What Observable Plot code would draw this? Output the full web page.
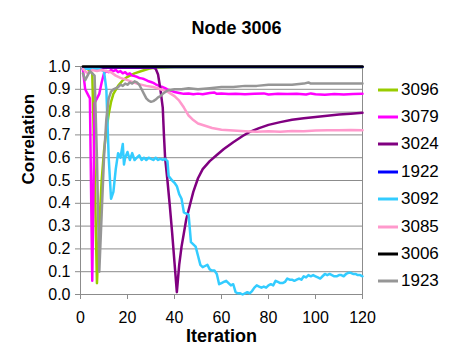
<!DOCTYPE html>
<html>
<head>
<meta charset="utf-8">
<script src="https://cdn.jsdelivr.net/npm/d3@7"></script>
<script src="https://cdn.jsdelivr.net/npm/@observablehq/plot@0.6"></script>
<style>
  html, body { margin: 0; padding: 0; background: #fff; }
  #chart { position: relative; width: 474px; height: 355px; font-family: "Liberation Sans", Arial, sans-serif; }
  #legend { position: absolute; left: 378px; top: 0; }
  .row { position: absolute; left: 0; display: flex; align-items: center; height: 24px; white-space: nowrap; }
  .row svg { display: block; }
  .row span { font-size: 17px; margin-left: 3px; color: #000; }
</style>
</head>
<body>
<div id="chart"><div id="legend"></div></div>
<script>
// ---- data ----
const title = "Node 3006";
const xLabel = "Iteration";
const yLabel = "Correlation";
const iterTicks = [0, 20, 40, 60, 80, 100, 120];
const corrTicks = [0, 0.1, 0.2, 0.3, 0.4, 0.5, 0.6, 0.7, 0.8, 0.9, 1.0];
const seriesNames = ["3096", "3079", "3024", "1922", "3092", "3085", "3006", "1923"];
const seriesColors = ["#99cc00", "#ff00ff", "#800080", "#0000ff", "#33ccff", "#ff99cc", "#000000", "#969696"];

const s3096 = [[1,0.99],[3,0.99],[5,0.97],[6,0.55],[7,0.05],[8,0.3],[9,0.5],[10,0.63],[11,0.72],[12,0.79],[13,0.845],[14,0.88],[16,0.915],[18,0.94],[20,0.955],[23,0.97],[26,0.98],[29,0.99],[32,0.995],[40,0.997],[60,0.997],[120,0.997]];
const s3079 = [[1,0.99],[2,0.9],[3,0.88],[4,0.86],[5,0.06],[6,0.84],[7,0.86],[8,0.88],[9,0.93],[10,0.97],[11,0.98],[12,0.975],[13,0.985],[14,0.98],[15,0.985],[16,0.975],[17,0.98],[18,0.97],[19,0.975],[20,0.965],[21,0.97],[22,0.96],[23,0.958],[24,0.955],[25,0.95],[26,0.948],[27,0.945],[28,0.94],[29,0.935],[30,0.932],[31,0.928],[32,0.922],[33,0.917],[34,0.912],[35,0.91],[36,0.905],[37,0.9],[38,0.896],[39,0.892],[40,0.888],[42,0.884],[44,0.88],[46,0.882],[48,0.878],[50,0.881],[52,0.878],[55,0.884],[57,0.886],[58,0.88],[60,0.882],[63,0.879],[66,0.881],[70,0.878],[74,0.88],[78,0.882],[80,0.877],[84,0.88],[88,0.879],[92,0.88],[96,0.877],[98,0.882],[100,0.878],[104,0.876],[108,0.879],[112,0.877],[116,0.879],[120,0.88]];
const s3024 = [[1,0.995],[10,0.995],[20,0.995],[30,0.995],[31,0.995],[32,0.99],[33,0.965],[34,0.9],[35,0.82],[35.5,0.7],[36,0.6],[37,0.5],[38,0.39],[39,0.27],[40,0.14],[41,0.01],[42,0.13],[43,0.21],[44,0.27],[45,0.33],[46,0.37],[47,0.41],[48,0.45],[50,0.51],[52,0.55],[55,0.585],[58,0.612],[61,0.638],[65,0.668],[69,0.695],[72,0.713],[76,0.73],[80,0.744],[85,0.756],[90,0.766],[95,0.773],[100,0.779],[105,0.784],[110,0.789],[115,0.793],[120,0.797]];
const s1922 = [[1,0.99],[3,0.996],[10,0.998],[20,0.998],[40,0.998],[60,0.998],[80,0.998],[100,0.998],[120,0.998]];
const s3092 = [[1,0.99],[5,0.99],[8,0.99],[10,0.98],[11,0.9],[12,0.6],[13,0.42],[14,0.45],[15,0.55],[16,0.62],[17,0.6],[18,0.66],[18.5,0.57],[19,0.6],[20,0.625],[21,0.59],[22,0.62],[23,0.59],[24,0.6],[25,0.61],[26,0.59],[27,0.6],[28,0.59],[29,0.6],[30,0.595],[31,0.59],[32,0.6],[33,0.59],[34,0.595],[35,0.59],[36,0.595],[37,0.585],[37.5,0.52],[39,0.5],[40,0.49],[41,0.475],[42,0.44],[43,0.42],[44,0.36],[45,0.355],[46,0.35],[47,0.23],[48,0.22],[49,0.21],[50,0.17],[51,0.13],[52,0.12],[53,0.125],[54,0.13],[55,0.11],[56,0.105],[57,0.105],[58,0.09],[59,0.045],[60,0.05],[61,0.055],[62,0.06],[63,0.05],[64,0.04],[65,0.045],[66,0.01],[67,0.005],[68,0.005],[69,0.0],[70,0.005],[71,0.01],[72,0.005],[73,0.015],[74,0.03],[75,0.04],[76,0.035],[77,0.03],[78,0.035],[79,0.03],[80,0.04],[81,0.045],[82,0.04],[83,0.06],[84,0.055],[85,0.05],[86,0.05],[87,0.055],[88,0.07],[89,0.065],[90,0.065],[91,0.06],[92,0.065],[93,0.07],[94,0.065],[95,0.08],[96,0.075],[97,0.085],[98,0.08],[99,0.085],[100,0.08],[101,0.075],[102,0.07],[103,0.08],[104,0.09],[105,0.085],[106,0.09],[107,0.085],[108,0.08],[109,0.08],[110,0.085],[111,0.085],[112,0.08],[113,0.09],[114,0.095],[115,0.095],[116,0.09],[117,0.09],[118,0.085],[119,0.085],[120,0.08]];
const s3085 = [[1,0.99],[2,0.98],[3,0.97],[5,0.985],[7,0.98],[9,0.985],[11,0.98],[13,0.975],[15,0.96],[17,0.95],[20,0.94],[24,0.925],[28,0.915],[31,0.91],[34,0.9],[37,0.89],[40,0.87],[42,0.85],[44,0.82],[46,0.785],[48,0.765],[50,0.75],[53,0.74],[56,0.73],[60,0.723],[65,0.719],[70,0.716],[75,0.714],[80,0.716],[85,0.714],[90,0.717],[95,0.716],[100,0.719],[105,0.72],[110,0.72],[115,0.721],[120,0.72]];
const s3006 = [[1,1.0],[30,1.0],[60,1.0],[90,1.0],[120,1.0]];
const s1923 = [[1,0.97],[2,0.94],[3,0.96],[4,0.98],[5,0.97],[6,0.96],[7,0.6],[8,0.1],[9,0.35],[10,0.6],[11,0.77],[12,0.86],[13,0.89],[14,0.9],[16,0.91],[17,0.92],[18,0.915],[19,0.925],[20,0.92],[21,0.93],[22,0.925],[23,0.935],[24,0.93],[25,0.92],[26,0.9],[27,0.88],[28,0.86],[29,0.85],[30,0.845],[31,0.848],[32,0.855],[33,0.865],[34,0.87],[35,0.88],[37,0.895],[40,0.9],[43,0.9],[46,0.905],[50,0.9],[55,0.905],[60,0.91],[65,0.91],[70,0.915],[75,0.915],[80,0.92],[85,0.92],[90,0.92],[95,0.925],[97,0.93],[98,0.925],[105,0.925],[110,0.925],[120,0.925]];

const seriesData = [s3096, s3079, s3024, s1922, s3092, s3085, s3006, s1923];

// ---- build table ----
const rows = seriesNames.flatMap((name, i) => seriesData[i].map(([x, y]) => ({series: name, x, y})));

const gridColor = "#8c8c8c";
const chart = Plot.plot({
  width: 474,
  height: 355,
  marginLeft: 80,
  marginRight: 112,
  marginTop: 66,
  marginBottom: 61,
  style: {fontFamily: "'Liberation Sans', Arial, sans-serif", fontSize: "16px", color: "#000", background: "#fff"},
  x: {domain: [0, 120], label: null},
  y: {domain: [0, 1], label: null},
  color: {domain: seriesNames, range: seriesColors},
  marks: [
    Plot.gridY(corrTicks, {stroke: gridColor, strokeOpacity: 1}),
    Plot.frame({stroke: gridColor}),
    Plot.axisX(iterTicks, {tickSize: 5, tickPadding: 12, stroke: gridColor, label: null, fontSize: 16}),
    Plot.axisY(corrTicks, {tickSize: 5, tickPadding: 5, stroke: gridColor, tickFormat: d3.format(".1f"), label: null, fontSize: 16}),
    Plot.line(rows, {x: "x", y: "y", z: "series", stroke: "series", strokeWidth: 2.5, curve: "linear"}),
    Plot.text([title], {text: d => d, frameAnchor: "top", lineAnchor: "middle", dy: -38, dx: 15, fontSize: 18, fontWeight: "bold"}),
    Plot.text([xLabel], {text: d => d, frameAnchor: "bottom", lineAnchor: "middle", dy: 42, fontSize: 18, fontWeight: "bold"}),
    Plot.text([yLabel], {text: d => d, frameAnchor: "left", lineAnchor: "middle", dx: -52, dy: 4, rotate: -90, fontSize: 17, fontWeight: "bold"})
  ]
});
const container = document.getElementById("chart");
container.insertBefore(chart, container.firstChild);

// ---- legend ----
const legend = document.getElementById("legend");
seriesNames.forEach((name, i) => {
  const row = document.createElement("div");
  row.className = "row";
  row.style.top = (89.5 + i * 27.4 - 12) + "px";
  row.innerHTML = `<svg width="20" height="6"><line x1="0" x2="20" y1="3" y2="3" stroke="${seriesColors[i]}" stroke-width="3"/></svg><span>${name}</span>`;
  legend.appendChild(row);
});
</script>
</body>
</html>
